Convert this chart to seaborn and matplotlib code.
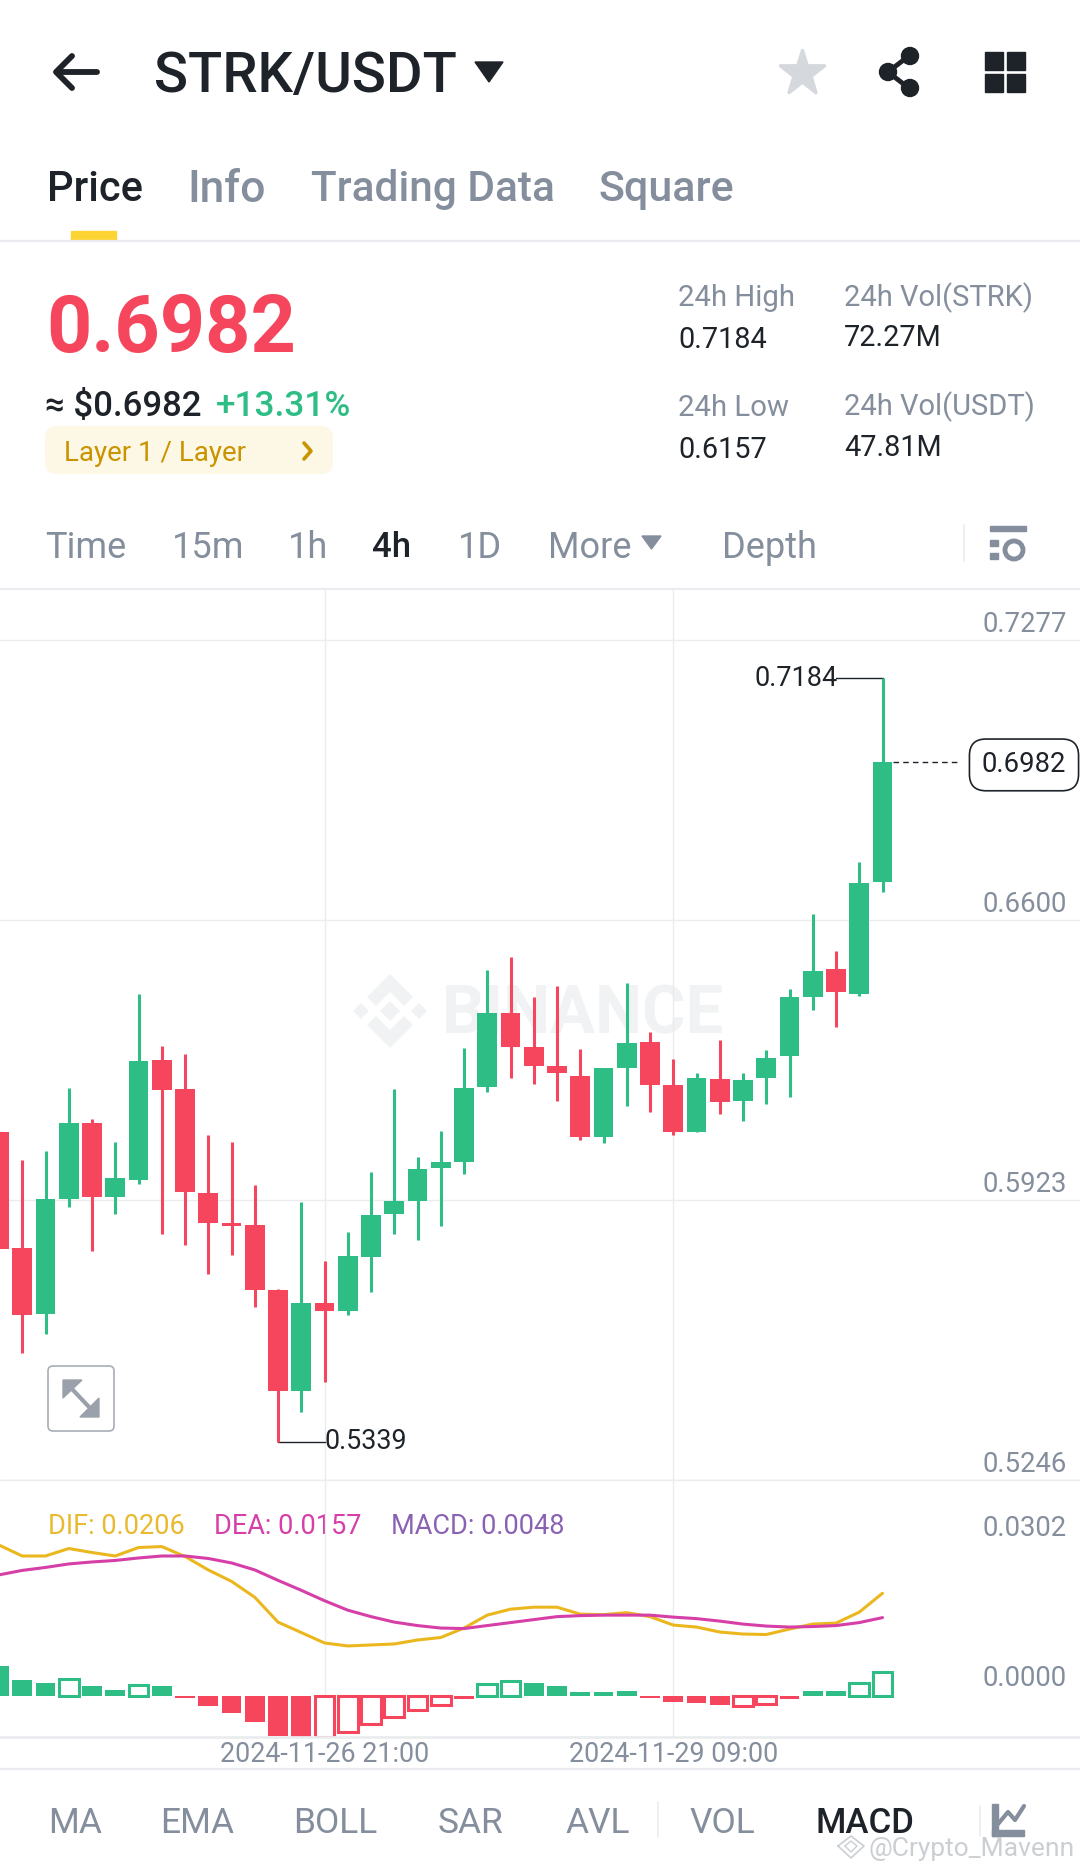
import numpy as np
import seaborn as sns
import pandas as pd
import matplotlib.pyplot as plt
from matplotlib.patches import FancyBboxPatch, Polygon, Rectangle, Circle

# 4h candles
candle_open = [.6087, .5806, .5647, .5926, .6110, .5931, .5972, .6261, .6191, .5941,
               .5868, .5863, .5705, .5462, .5674, .5654, .5786, .5889, .5921, .6000,
               .6015, .6197, .6376, .6293, .6248, .6224, .6075, .6241, .6304, .6202,
               .6087, .6216, .6162, .6218, .6271, .6414, .6481, .6422, .6691]
candle_close = [.5805, .5646, .5926, .6109, .5931, .5975, .6260, .6189, .5943, .5867,
                .5861, .5705, .5462, .5674, .5654, .5787, .5887, .5920, .5999, .6014,
                .6195, .6376, .6293, .6248, .6230, .6075, .6241, .6302, .6201, .6087,
                .6217, .6161, .6213, .6267, .6415, .6477, .6425, .6690, .6982]
candle_high = [.6169, .6019, .6042, .6195, .6118, .6063, .6422, .6295, .6275, .6081,
               .6063, .5960, .5707, .5917, .5776, .5845, .5990, .6191, .6028, .6091,
               .6291, .6478, .6510, .6413, .6441, .6289, .6243, .6448, .6328, .6263,
               .6231, .6311, .6229, .6285, .6434, .6615, .6524, .6740, .7184]
candle_low = [.5780, .5554, .5599, .5907, .5800, .5889, .5962, .5842, .5813, .5744,
              .5789, .5665, .5338, .5410, .5483, .5645, .5701, .5842, .5826, .5860,
              .5985, .6185, .6217, .6204, .6162, .6069, .6060, .6151, .6135, .6080,
              .6087, .6131, .6115, .6156, .6173, .6382, .6342, .6417, .6667]

dif = [.0303, .0281, .0281, .0296, .0288, .0281, .0298, .0300, .0280, .0253,
       .0230, .0198, .0148, .0127, .0106, .0100, .0102, .0104, .0112, .0117,
       .0136, .0162, .0174, .0178, .0178, .0164, .0163, .0167, .0159, .0142,
       .0138, .0128, .0124, .0123, .0134, .0144, .0146, .0168, .0206]
dea = [.0243, .0252, .0258, .0265, .0269, .0272, .0277, .0281, .0281, .0276,
       .0267, .0253, .0232, .0212, .0191, .0172, .0159, .0148, .0141, .0136,
       .0135, .0141, .0147, .0153, .0159, .0161, .0162, .0162, .0162, .0158,
       .0155, .0150, .0144, .0140, .0138, .0139, .0141, .0147, .0157]
macd = [.0060, .0031, .0026, .0033, .0019, .0011, .0022, .0019, -.0005, -.0021,
        -.0035, -.0054, -.0081, -.0083, -.0083, -.0073, -.0057, -.0043, -.0028, -.0019,
        -.0007, .0023, .0030, .0026, .0020, .0007, .0007, .0010, -.0005, -.0013,
        -.0014, -.0019, -.0021, -.0017, -.0007, .0009, .0009, .0025, .0048]
macd_hollow = [0, 0, 0, 1, 0, 0, 1, 0, 0, 0,
               0, 0, 0, 0, 1, 1, 1, 1, 1, 1,
               0, 1, 1, 0, 0, 0, 0, 0, 0, 0,
               0, 0, 1, 1, 0, 0, 0, 1, 1]

price_ticks = [.7277, .6600, .5923, .5246]
macd_ticks = [.0302, .0000]
date_ticks = [14, 29]
date_labels = ['2024-11-26 21:00', '2024-11-29 09:00']
last_price = .6982
high_price = .7184
low_price = .5339

RED = '#F6465D'
GREEN = '#2EBD85'
GRID = '#EAECEF'
GREY = '#848E9C'
DARK = '#1E2329'

sns.set_theme(style='white')
plt.rcParams['font.family'] = ['Roboto', 'DejaVu Sans']

W, H = 1080, 1868
fig = plt.figure(figsize=(W / 100, H / 100), dpi=100, facecolor='white')

# page chrome, in pixels
ui = fig.add_axes([0, 0, 1, 1], zorder=0)
ui.set_xlim(0, W)
ui.set_ylim(H, 0)
ui.axis('off')


def label(x, y, s, size=23, color=GREY, ha='left', weight='normal', **kw):
    ui.text(x, y + 2.5, s, fontsize=size, color=color, ha=ha, va='center', fontweight=weight, **kw)


def logo(cx, cy, k, **kw):
    top = [(0, -37), (23, -14), (14, -5), (0, -19), (-14, -5), (-23, -14)]
    ui.add_patch(Polygon([(cx + k * a, cy + k * b) for a, b in top], **kw))
    ui.add_patch(Polygon([(cx + k * a, cy - k * b) for a, b in top], **kw))
    for dx, r in [(-29, 8), (29, 8), (0, 10)]:
        ui.add_patch(Polygon([(cx + k * (dx - r), cy), (cx + k * dx, cy - k * r),
                              (cx + k * (dx + r), cy), (cx + k * dx, cy + k * r)], **kw))


# header
ui.plot([97, 57], [72, 72], color=DARK, lw=4.2)
ui.plot([72, 56, 72], [56, 72, 88], color=DARK, lw=4.2)
label(154, 74, 'STRK/USDT', size=40.5, color=DARK, weight='medium')
ui.add_patch(Polygon([(475, 62), (503, 62), (489, 82)], color=DARK))
ui.plot(802, 73, marker='*', ms=35, color='#D5D9DE', mec='#D5D9DE', mew=2, mfc='#D5D9DE')
ui.plot([910, 888, 910], [55, 72, 89], color=DARK, lw=3.5)
for cx, cy in [(910, 56), (888, 72), (910, 88)]:
    ui.add_patch(Circle((cx, cy), 8.5, color=DARK))
for x0 in (985, 1007):
    for y0 in (52, 74):
        ui.add_patch(Rectangle((x0, y0), 18, 18, color=DARK))

# tabs
label(47, 187, 'Price', size=30, color=DARK, weight='medium')
label(187, 187, 'Info', size=32, weight='medium')
label(311, 187, 'Trading Data', size=30.5, weight='medium')
label(599, 187, 'Square', size=31, weight='medium')
ui.add_patch(Rectangle((71, 231), 45, 9, color='#FCD535'))
ui.plot([0, W], [241, 241], color=GRID, lw=1.6)

# price block
label(46, 328, '0.6982', size=57, color=RED, weight='bold')
label(45, 404, '≈ $0.6982', size=25, color=DARK, weight='medium')
label(216, 404, '+13.31%', size=25.4, color=GREEN, weight='medium')
ui.add_patch(FancyBboxPatch((45, 426), 288, 48, boxstyle='round,pad=0,rounding_size=12',
                            fc='#FDF8E6', ec='none', lw=0))
label(64, 451, 'Layer 1 / Layer', size=20, color='#C99400')
ui.plot([304, 311, 304], [443, 451, 459], color='#C99400', lw=2.6)

label(678, 295, '24h High', size=21.2)
label(678, 338, '0.7184', size=20.8, color=DARK)
label(844, 295, '24h Vol(STRK)', size=21)
label(844, 336, '72.27M', size=20.8, color=DARK)
label(678, 406, '24h Low', size=21.2)
label(678, 448, '0.6157', size=20.8, color=DARK)
label(844, 404, '24h Vol(USDT)', size=21)
label(844, 446, '47.81M', size=20.8, color=DARK)

# interval row
for x, s in [(45, 'Time'), (172, '15m'), (288, '1h'), (458, '1D'), (548, 'More'), (722, 'Depth')]:
    label(x, 545, s, size=26)
label(372, 545, '4h', size=25, color=DARK, weight='medium')
ui.add_patch(Polygon([(642, 536), (661, 536), (651.5, 549)], color=GREY))
ui.plot([964, 964], [525, 561], color=GRID, lw=1.2)
ui.add_patch(Rectangle((990, 526), 36, 5, color=GREY))
ui.add_patch(Rectangle((990, 540), 8, 6, color=GREY))
ui.add_patch(Rectangle((990, 553), 8, 6, color=GREY))
ui.add_patch(Circle((1014, 550), 9, fc='white', ec=GREY, lw=3.5))
ui.plot([0, W], [589, 589], color=GRID, lw=1.6)

# watermark sits under the candles
logo(390, 1011, 1, color='#F1F2F3', lw=0)
label(442, 1013, 'BINANCE', size=48, color='#F1F2F3', weight='bold')

# bottom tabs
ui.plot([0, W], [1769, 1769], color=GRID, lw=1.6)
for x, s in [(48, 'MA'), (160, 'EMA'), (293, 'BOLL'), (438, 'SAR'), (566, 'AVL'), (689, 'VOL')]:
    label(x, 1821, s, size=25.5)
label(815, 1821, 'MACD', size=25, color=DARK, weight='medium')
ui.plot([658, 658], [1802, 1837], color=GRID, lw=1.2)
ui.plot([980, 980], [1806, 1836], color=GRID, lw=1.2)
ui.add_patch(Rectangle((992, 1804), 6, 32, color=GREY))
ui.add_patch(Rectangle((992, 1830), 32, 6, color=GREY))
ui.plot([998, 1008, 1015, 1024], [1824, 1812, 1820, 1806], color=GREY, lw=3)

# price panel
px_per_price = 280 / .0677
ax = fig.add_axes([0, 1 - 1480 / H, 1, (1480 - 590) / H], zorder=1)
ax.patch.set_alpha(0)
idx = np.arange(len(candle_open))
o, c = np.array(candle_open), np.array(candle_close)
colors = [GREEN if b >= a else RED for a, b in zip(o, c)]
ax.vlines(idx, candle_low, candle_high, colors=colors, lw=2.2, zorder=3)
ax.bar(idx, np.abs(c - o), bottom=np.minimum(o, c), width=.86, color=colors, lw=0, zorder=4)

ax.set_xlim(1 / 23.25, 1081 / 23.25)
ax.set_ylim(.66 - 560 / px_per_price, .66 + 330 / px_per_price)
ax.set_xticks(date_ticks)
ax.set_yticks(price_ticks)
ax.tick_params(length=0, labelbottom=False, labelleft=False)
ax.grid(True, color=GRID, lw=1)
sns.despine(ax=ax, left=True, bottom=True)
for v in price_ticks:
    ax.annotate(f'{v:.4f}', xy=(1, v), xycoords=('axes fraction', 'data'), xytext=(-9.5, 11.5),
                textcoords='offset points', ha='right', va='center', fontsize=19.8, color=GREY)

ax.plot([36, 38], [high_price, high_price], color=DARK, lw=1, zorder=2)
ax.text(36.06, high_price + .0001, f'{high_price:.4f}', ha='right', va='center', fontsize=19.5, color=DARK)
ax.plot([12, 14], [low_price, low_price], color=DARK, lw=1, zorder=2)
ax.text(14, low_price + .0001, f'{low_price:.4f}', ha='left', va='center', fontsize=19.4, color=DARK)
ax.plot([38.45, 41.33], [last_price, last_price], color=DARK, lw=1, ls=(0, (4, 3)))
ax.annotate(f'{last_price:.4f}', xy=(1024, last_price - .0007), xycoords=('figure pixels', 'data'),
            ha='center', va='center', fontsize=19.8, color=DARK,
            bbox=dict(boxstyle='round,pad=0.45,rounding_size=0.6', fc='white', ec=DARK, lw=1.2))

# expand button
ui.add_patch(FancyBboxPatch((48, 1366), 66, 65, boxstyle='round,pad=0,rounding_size=5',
                            fc='white', ec='#A8AEB7', lw=1.2))
ui.plot([72, 90], [1389, 1408], color='#9BA1AB', lw=3)
ui.add_patch(Polygon([(63, 1380), (82, 1380), (63, 1398)], color='#9BA1AB'))
ui.add_patch(Polygon([(99, 1417), (80, 1417), (99, 1398)], color='#9BA1AB'))

# macd panel
mx = fig.add_axes([0, 1 - 1737 / H, 1, (1737 - 1480) / H], zorder=1)
mx.patch.set_alpha(0)
df = pd.DataFrame({'i': idx, 'dif': dif, 'dea': dea, 'macd': macd, 'hollow': macd_hollow})
df['kind'] = np.where(df['macd'] >= 0, 'up', 'down')
df['kind'] = df['kind'] + np.where(df['hollow'] == 1, '_h', '')
kinds = ['up', 'up_h', 'down', 'down_h']
pal = {'up': GREEN, 'up_h': GREEN, 'down': RED, 'down_h': RED}
sns.barplot(data=df, x='i', y='macd', hue='kind', hue_order=kinds, palette=pal, native_scale=True,
            dodge=False, width=.86, errorbar=None, legend=False, saturation=1, linewidth=0, ax=mx)
for kind, cont in zip(kinds, mx.containers):
    if kind.endswith('_h'):
        for r in cont:
            r.set(facecolor='white', edgecolor=pal[kind], linewidth=2.2)
    else:
        for r in cont:
            r.set(facecolor=pal[kind], edgecolor='none')
sns.lineplot(data=df, x='i', y='dif', color='#EBB71F', lw=2.2, errorbar=None, ax=mx)
sns.lineplot(data=df, x='i', y='dea', color='#D63FA8', lw=2.2, errorbar=None, ax=mx)

mx.set_xlim(1 / 23.25, 1081 / 23.25)
mx.set_ylim(-.00832, .04339)
mx.set_xlabel('')
mx.set_ylabel('')
mx.set_xticks(date_ticks)
mx.set_xticklabels(date_labels, fontsize=19.4, color=GREY)
mx.set_yticks(macd_ticks)
mx.tick_params(axis='x', length=0, pad=3)
mx.tick_params(axis='y', length=0, labelleft=False)
mx.grid(True, axis='x', color=GRID, lw=1)
mx.grid(False, axis='y')
sns.despine(ax=mx, left=True, top=False)
mx.spines['top'].set_color(GRID)
mx.spines['top'].set_linewidth(1)
mx.spines['bottom'].set_color(GRID)
mx.spines['bottom'].set_linewidth(2)
for v in macd_ticks:
    mx.annotate(f'{v:.4f}', xy=(1, v), xycoords=('axes fraction', 'data'), xytext=(-9.5, 12.5),
                textcoords='offset points', ha='right', va='center', fontsize=19.8, color=GREY)

label(48, 1524, f'DIF: {dif[-1]:.4f}', size=19.5, color='#E9B92F')
label(214, 1524, f'DEA: {dea[-1]:.4f}', size=19.5, color='#D63FA8')
label(391, 1524, f'MACD: {macd[-1]:.4f}', size=19.5, color='#8A62B3')

# repost tag
tag = fig.add_axes([0, 0, 1, 1], zorder=2)
tag.set_xlim(0, W)
tag.set_ylim(H, 0)
tag.axis('off')
tag.patch.set_alpha(0)
tag.text(869, 1849, '@Crypto_Mavenn', fontsize=19, color='#CBCFD4', va='center')
tag.plot([838, 851, 864, 851, 838], [1846, 1836, 1846, 1858, 1846], color='#CBCFD4', lw=1.2)
tag.plot([845, 851, 857, 851, 845], [1846, 1841, 1846, 1852, 1846], color='#CBCFD4', lw=1)

fig.savefig('out.png', dpi=100)
